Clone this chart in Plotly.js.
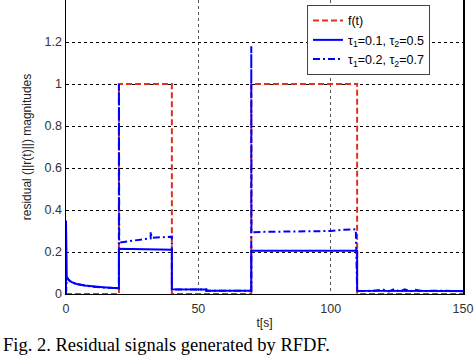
<!DOCTYPE html>
<html>
<head>
<meta charset="utf-8">
<script src="https://cdn.plot.ly/plotly-3.0.1.min.js"></script>
<style>html,body{margin:0;padding:0;background:#fff;}#chart{width:474px;height:357px;}</style>
</head>
<body>
<div id="chart"></div>
<script>
// f(t) fault signal
const tF = [0, 20, 20, 40, 40, 70, 70, 110, 110, 150];
const fVals = [0, 0, 1, 1, 0, 0, 1, 1, 0, 0];

// residual, tau1=0.1, tau2=0.5
const tA = [0, 0, 0.3, 1, 2, 4, 7, 10, 14, 18, 20, 20, 25, 30, 35, 40, 40, 46, 53, 53, 60, 70, 70, 80, 90, 100, 110, 110, 120, 130, 140, 150];
const rA = [0, 0.35, 0.082, 0.068, 0.058, 0.048, 0.041, 0.036, 0.032, 0.029, 0.028, 0.215, 0.214, 0.213, 0.212, 0.211, 0.023, 0.023, 0.022, 0.016, 0.016, 0.016, 0.206, 0.206, 0.206, 0.206, 0.206, 0.016, 0.016, 0.015, 0.014, 0.014];

// residual, tau1=0.2, tau2=0.7
const tB = [0, 0.3, 1, 2, 4, 7, 10, 14, 18, 20, 20, 20.1, 24, 28, 32, 32, 32.3, 36, 40, 40, 46, 53, 53, 60, 70, 70, 70.1, 75, 80, 90, 100, 105, 109.5, 110, 115, 120, 122, 124, 126, 128, 130, 132, 135, 140, 145, 150];
const rB = [0, 0.078, 0.066, 0.056, 0.047, 0.04, 0.035, 0.031, 0.028, 0.027, 1.0, 0.245, 0.252, 0.26, 0.265, 0.297, 0.268, 0.27, 0.273, 0.022, 0.022, 0.021, 0.015, 0.015, 0.015, 1.18, 0.294, 0.296, 0.297, 0.298, 0.3, 0.306, 0.308, 0.014, 0.015, 0.02, 0.012, 0.024, 0.011, 0.022, 0.012, 0.02, 0.014, 0.016, 0.013, 0.013];

const yTicks = [0, 0.2, 0.4, 0.6, 0.8, 1, 1.2];
const yTickText = ['0', '0.2', '0.4', '0.6', '0.8', '1', '1.2'];
const xTicks = [0, 50, 100, 150];

const traces = [
  {x: tF, y: fVals, mode: 'lines', name: 'f(t)',
   line: {color: '#e0301e', width: 2, dash: '6px,3px'}},
  {x: tA, y: rA, mode: 'lines', name: '\u03c4<sub>1</sub>=0.1, \u03c4<sub>2</sub>=0.5',
   line: {color: '#0000ff', width: 2}},
  {x: tB, y: rB, mode: 'lines', name: '\u03c4<sub>1</sub>=0.2, \u03c4<sub>2</sub>=0.7',
   line: {color: '#0000ff', width: 2, dash: '7px,3px,2px,3px'}}
];

const font = {family: 'Liberation Sans, Arial, sans-serif', size: 12, color: '#222'};
const tickFont = {family: 'Liberation Sans, Arial, sans-serif', size: 12.5, color: '#333'};

const layout = {
  width: 474, height: 357,
  margin: {l: 66, r: 11, t: 0, b: 63},
  paper_bgcolor: '#fff', plot_bgcolor: '#fff',
  font: font,
  showlegend: true,
  legend: {x: 0.607, y: 0.983, xanchor: 'left', yanchor: 'top',
    bgcolor: '#fff', bordercolor: '#444', borderwidth: 1,
    font: {family: 'Liberation Sans, Arial, sans-serif', size: 12.5, color: '#000'},
    tracegroupgap: 0, itemwidth: 30},
  xaxis: {range: [0, 150], tickvals: xTicks, ticktext: xTicks.map(String),
    showline: true, linecolor: '#000', linewidth: 1, mirror: false,
    showgrid: true, gridcolor: '#555', griddash: '3px,3px', gridwidth: 1,
    zeroline: false, ticks: '', tickfont: tickFont, ticklabelstandoff: 3,
    title: {text: 't[s]', font: font, standoff: 3}},
  yaxis: {range: [0, 1.4], tickvals: yTicks, ticktext: yTickText,
    showline: true, linecolor: '#000', linewidth: 1.5, mirror: true,
    showgrid: true, gridcolor: '#000', griddash: '3px,3px', gridwidth: 1,
    zeroline: false, ticks: '', tickfont: tickFont,
    title: {text: 'residual (||r(t)||) magnitudes', font: font, standoff: 10}},
  annotations: [{
    text: 'Fig. 2. Residual signals generated by RFDF.',
    xref: 'paper', yref: 'paper', x: -0.163, y: -0.172,
    xanchor: 'left', yanchor: 'middle', showarrow: false,
    font: {family: 'Liberation Serif, Times New Roman, serif', size: 18.5, color: '#000'}
  }]
};

Plotly.newPlot('chart', traces, layout, {displayModeBar: false, staticPlot: true});
</script>
</body>
</html>
